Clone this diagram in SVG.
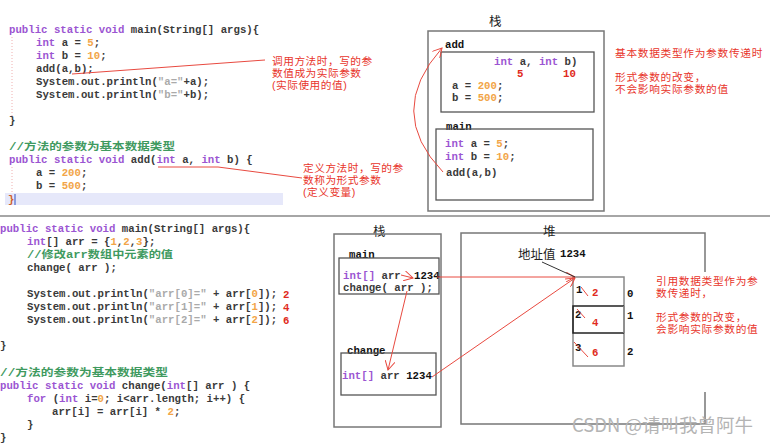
<svg xmlns="http://www.w3.org/2000/svg" width="779" height="444" viewBox="0 0 779 444">
<defs>
<style>
.c{font-family:"Liberation Mono","Noto Sans CJK SC",monospace;font-size:10.7px;fill:#3a3a3a;font-weight:bold}
.k{fill:#9b55d2}
.n{fill:#f2a548}
.s{fill:#aaaaaa}
.g{fill:#3f9a5f}
.rn{fill:#e02a20}
.r{font-family:"Liberation Sans","Noto Sans CJK SC",sans-serif;font-size:10.7px;letter-spacing:0.5px;fill:#e8352b}
.r2{letter-spacing:0.7px}
.lab{font-family:"Liberation Mono",monospace;font-size:10.7px;font-weight:bold;fill:#111}
.cjk{font-family:"Noto Sans CJK SC",sans-serif;font-size:12.5px;fill:#222}
.box{fill:none;stroke:#777;stroke-width:1.5}
.ibox{fill:none;stroke:#555;stroke-width:1.3}
.rl{fill:none;stroke:#e84a40;stroke-width:1}
.dot{fill:none;stroke:#f0b0b0;stroke-width:1;stroke-dasharray:1 2}
</style>
<marker id="ah" viewBox="0 0 10 10" refX="9" refY="5" markerWidth="10" markerHeight="10" markerUnits="userSpaceOnUse" orient="auto">
<path d="M0,0 L9,5 L0,10" fill="none" stroke="#e84a40" stroke-width="1"/>
</marker>
</defs>
<rect width="779" height="444" fill="#ffffff"/>

<g id="code-top" xml:space="preserve">
<line class="dot" x1="12" y1="37" x2="12" y2="118"/>
<line class="dot" x1="12" y1="167" x2="12" y2="194"/>
<rect x="5" y="193" width="278" height="12" fill="#e6e8fa"/>
<text class="c" x="9" y="33"><tspan class="k">public static void</tspan> main(String[] args){</text>
<text class="c" x="36" y="46"><tspan class="k">int</tspan> a = <tspan class="n">5</tspan>;</text>
<text class="c" x="36" y="59"><tspan class="k">int</tspan> b = <tspan class="n">10</tspan>;</text>
<text class="c" x="36" y="72">add(a,b);</text>
<text class="c" x="36" y="85">System.out.println(<tspan class="s">"a="</tspan>+a);</text>
<text class="c" x="36" y="98">System.out.println(<tspan class="s">"b="</tspan>+b);</text>
<text class="c" x="9" y="124">}</text>
<text class="c g" x="9" y="150" textLength="166" lengthAdjust="spacingAndGlyphs">//方法的参数为基本数据类型</text>
<text class="c" x="9" y="163"><tspan class="k">public static void</tspan> add(<tspan class="k">int</tspan> a, <tspan class="k">int</tspan> b) {</text>
<text class="c" x="36" y="176">a = <tspan class="n">200</tspan>;</text>
<text class="c" x="36" y="189">b = <tspan class="n">500</tspan>;</text>
<text class="c" x="8" y="203" style="fill:#d0602a">}</text>
<line x1="15" y1="194" x2="15" y2="205" stroke="#3050c0" stroke-width="1"/>
</g>

<g id="note-actual">
<text class="r" x="272" y="65">调用方法时，写的参</text>
<text class="r" x="272" y="77">数值成为实际参数</text>
<text class="r" x="272" y="89">(实际使用的值)</text>
</g>
<g id="note-formal">
<text class="r" x="303" y="172">定义方法时，写的参</text>
<text class="r" x="303" y="184">数称为形式参数</text>
<text class="r" x="303" y="196">(定义变量)</text>
</g>

<g id="stack-top">
<text class="cjk" x="489" y="26">栈</text>
<rect class="box" x="428" y="31" width="176" height="180"/>
</g>
<g id="frame-add">
<text class="lab" x="445" y="48">add</text>
<rect class="ibox" x="441" y="52" width="153" height="60"/>
<text class="c" x="494" y="65"><tspan class="k">int</tspan> a, <tspan class="k">int</tspan> b)</text>
<text class="c rn" x="517" y="77">5</text>
<text class="c rn" x="563" y="77">10</text>
<text class="c" x="452" y="89">a = <tspan class="n">200</tspan>;</text>
<text class="c" x="452" y="101">b = <tspan class="n">500</tspan>;</text>
</g>
<g id="frame-main-top">
<text class="lab" x="446" y="130">main</text>
<rect class="ibox" x="436" y="129" width="157" height="71"/>
<text class="c" x="445" y="147"><tspan class="k">int</tspan> a = <tspan class="n">5</tspan>;</text>
<text class="c" x="445" y="160"><tspan class="k">int</tspan> b = <tspan class="n">10</tspan>;</text>
<text class="c" x="446" y="176">add(a,b)</text>
</g>
<g id="note-basic">
<text class="r r2" x="615" y="57">基本数据类型作为参数传递时</text>
<text class="r r2" x="615" y="81">形式参数的改变，</text>
<text class="r r2" x="615" y="93">不会影响实际参数的值</text>
</g>

<line x1="0" y1="216" x2="770" y2="216" stroke="#888" stroke-width="1.5"/>

<g id="code-bottom" xml:space="preserve">
<text class="c" x="0" y="232"><tspan class="k">public static void</tspan> main(String[] args){</text>
<text class="c" x="27" y="245"><tspan class="k">int</tspan>[] arr = {<tspan class="n">1</tspan>,<tspan class="n">2</tspan>,<tspan class="n">3</tspan>};</text>
<text class="c g" x="27" y="258" textLength="146" lengthAdjust="spacingAndGlyphs">//修改arr数组中元素的值</text>
<text class="c" x="27" y="271">change( arr );</text>
<text class="c" x="27" y="297">System.out.println(<tspan class="s">"arr[0]="</tspan> + arr[<tspan class="n">0</tspan>]);</text>
<text class="c" x="27" y="310">System.out.println(<tspan class="s">"arr[1]="</tspan> + arr[<tspan class="n">1</tspan>]);</text>
<text class="c" x="27" y="323">System.out.println(<tspan class="s">"arr[2]="</tspan> + arr[<tspan class="n">2</tspan>]);</text>
<text class="c rn" x="283" y="298">2</text>
<text class="c rn" x="283" y="311">4</text>
<text class="c rn" x="283" y="324">6</text>
<text class="c" x="0" y="349">}</text>
<text class="c g" x="0" y="376" textLength="168" lengthAdjust="spacingAndGlyphs">//方法的参数为基本数据类型</text>
<text class="c" x="0" y="389"><tspan class="k">public static void</tspan> change(<tspan class="k">int</tspan>[] arr ) {</text>
<text class="c" x="27" y="402"><tspan class="k">for</tspan> (<tspan class="k">int</tspan> i=<tspan class="n">0</tspan>; i&lt;arr.length; i++) {</text>
<text class="c" x="52" y="415">arr[i] = arr[i] * <tspan class="n">2</tspan>;</text>
<text class="c" x="27" y="428">}</text>
<text class="c" x="0" y="441">}</text>
</g>

<g id="stack-bottom">
<text class="cjk" x="373" y="236">栈</text>
<rect class="box" x="334" y="234" width="107" height="193"/>
</g>
<g id="frame-main-bottom">
<text class="lab" x="349" y="258">main</text>
<rect class="ibox" x="339" y="258" width="100" height="36"/>
<text class="c" x="343" y="279"><tspan class="k">int[]</tspan> arr</text>
<text class="lab" x="414" y="279">1234</text>
<text class="c" x="343" y="291">change( arr );</text>
</g>
<g id="frame-change">
<text class="lab" x="347" y="354">change</text>
<rect class="ibox" x="341" y="353" width="95" height="42"/>
<text class="c" x="342" y="379"><tspan class="k">int[]</tspan> arr <tspan style="fill:#111">1234</tspan></text>
</g>

<g id="heap">
<path d="M705,272 V233 H461 V424 H705 V392" class="box" stroke="#666"/>
<text class="cjk" x="543" y="236">堆</text>
<text class="cjk" x="518" y="259">地址值</text>
<text class="lab" x="560" y="257">1234</text>
</g>
<g id="array">
<rect x="573" y="277" width="51" height="89" fill="none" stroke="#888" stroke-width="1.5"/>
<path d="M624,306 H573 V333 H624" fill="none" stroke="#222" stroke-width="1.5"/>
<line x1="624" y1="306" x2="624" y2="333" stroke="#888" stroke-width="1.5"/>
<text class="lab" x="576" y="293">1</text>
<text class="lab" x="575" y="318">2</text>
<text class="lab" x="575" y="351">3</text>
<text class="c rn" x="592" y="296">2</text>
<text class="c rn" x="592" y="326">4</text>
<text class="c rn" x="592" y="356">6</text>
<line class="rl" x1="581" y1="287" x2="588" y2="296"/>
<line class="rl" x1="577" y1="309" x2="585" y2="318"/>
<line class="rl" x1="574" y1="342" x2="588" y2="357"/>
<text class="lab" x="627" y="297">0</text>
<text class="lab" x="627" y="319">1</text>
<text class="lab" x="627" y="355">2</text>
</g>

<g id="note-ref">
<text class="r r2" x="656" y="285">引用数据类型作为参</text>
<text class="r r2" x="656" y="297">数传递时，</text>
<text class="r r2" x="656" y="321">形式参数的改变，</text>
<text class="r r2" x="656" y="333">会影响实际参数的值</text>
</g>

<g id="connectors">
<polyline class="rl" points="72,74 265,60"/>
<polyline class="rl" points="158,167 218,167 302,178"/>
<path class="rl" d="M443,172 Q385,112 442,48" marker-end="url(#ah)"/>
<line class="rl" x1="401" y1="275" x2="413" y2="278" marker-end="url(#ah)"/>
<line class="rl" x1="437" y1="277" x2="575" y2="277" marker-end="url(#ah)"/>
<line class="rl" x1="432" y1="377" x2="575" y2="278" marker-end="url(#ah)"/>
<line class="rl" x1="407" y1="291" x2="388" y2="370" marker-end="url(#ah)"/>
<line x1="542" y1="262" x2="575" y2="277" stroke="#333" stroke-width="1"/>
</g>

<text x="572" y="432" font-family="Noto Sans CJK SC, sans-serif" font-size="18.5" fill="#b4b4b4">CSDN @请叫我曾阿牛</text>
</svg>
